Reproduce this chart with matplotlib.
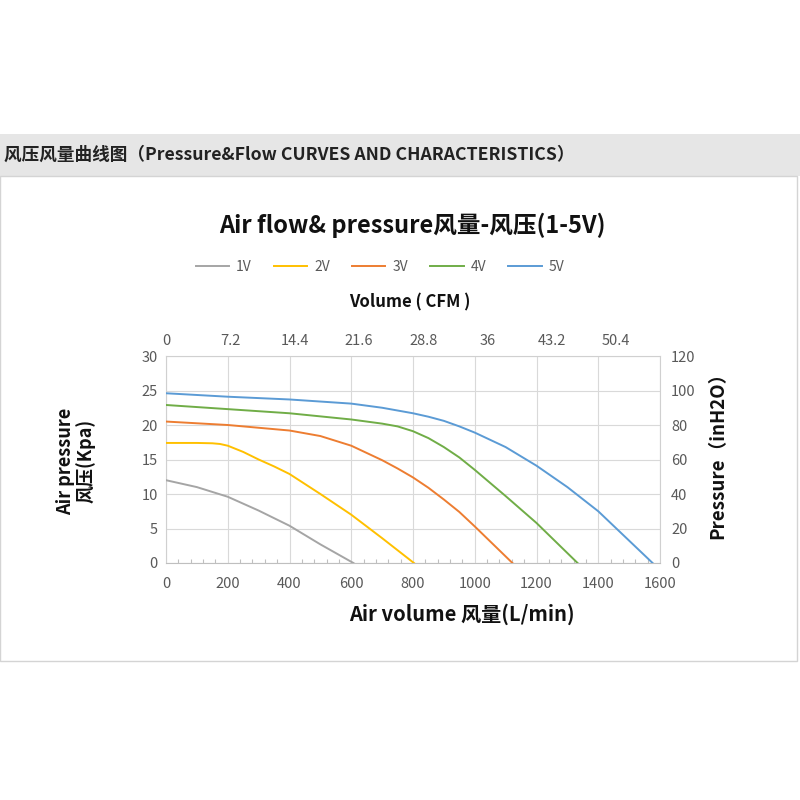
import matplotlib
matplotlib.use("Agg")
import matplotlib.pyplot as plt
from matplotlib.patches import Rectangle
from matplotlib.ticker import MultipleLocator

plt.rcParams["font.family"] = ["Noto Sans CJK SC", "DejaVu Sans"]

# ── Data ──────────────────────────────────────────────────────────────────────
flow_1v = [0, 100, 200, 300, 400, 500, 607]
pres_1v = [12.0, 11.0, 9.6, 7.6, 5.4, 2.7, 0.0]

flow_2v = [0, 100, 150, 175, 200, 250, 300, 350, 400, 500, 600, 700, 803]
pres_2v = [17.4, 17.4, 17.35, 17.25, 17.0, 16.1, 15.0, 14.0, 12.9, 10.0, 7.0, 3.6, 0.0]

flow_3v = [0, 200, 400, 500, 600, 700, 750, 800, 850, 900, 950, 1000, 1122]
pres_3v = [20.5, 20.0, 19.2, 18.4, 17.0, 14.9, 13.7, 12.4, 10.9, 9.2, 7.4, 5.3, 0.0]

flow_4v = [0, 200, 400, 600, 700, 750, 800, 850, 900, 950, 1000, 1100, 1200, 1333]
pres_4v = [22.9, 22.3, 21.7, 20.8, 20.2, 19.8, 19.1, 18.1, 16.8, 15.3, 13.5, 9.7, 5.8, 0.0]

flow_5v = [0, 200, 400, 600, 700, 800, 850, 900, 950, 1000, 1100, 1200, 1300, 1400, 1576]
pres_5v = [24.6, 24.1, 23.7, 23.1, 22.5, 21.7, 21.2, 20.6, 19.8, 18.9, 16.8, 14.1, 11.0, 7.5, 0.0]

series_labels = ["1V", "2V", "3V", "4V", "5V"]
series_colors = ["#A5A5A5", "#FFC000", "#ED7D31", "#70AD47", "#5B9BD5"]

cfm_ticks = [0, 7.2, 14.4, 21.6, 28.8, 36, 43.2, 50.4]
inh2o_ticks = [0, 20, 40, 60, 80, 100, 120]

TICK_COLOR = "#595959"
GRID_COLOR = "#D9D9D9"

# ── Figure / page background ──────────────────────────────────────────────────
fig = plt.figure(figsize=(8, 8), dpi=100)
fig.patch.set_facecolor("white")

# header band and framed box, in figure pixels
W = H = 800.0
fig.patches.append(Rectangle((0, 1 - 176 / H), 1, 42 / H, transform=fig.transFigure,
                             facecolor="#E6E6E6", edgecolor="none", zorder=-5))
fig.patches.append(Rectangle((0, 1 - 661 / H), 797 / W, 485 / H, transform=fig.transFigure,
                             facecolor="white", edgecolor="#D4D4D4", lw=1.0, zorder=-5))
fig.text(4 / W, 1 - 155 / H, "风压风量曲线图（Pressure&Flow CURVES AND CHARACTERISTICS）",
         fontsize=12.7, fontweight="bold", color="#222222", ha="left", va="center")

fig.text(412 / W, 1 - 225 / H, "Air flow& pressure风量-风压(1-5V)",
         fontsize=17, fontweight="bold", color="#111111", ha="center", va="center")

# ── Main axes ─────────────────────────────────────────────────────────────────
ax = fig.add_axes([166 / W, 1 - 563 / H, 494 / W, 207 / H])
ax.set_zorder(2)
series = [(flow_1v, pres_1v), (flow_2v, pres_2v), (flow_3v, pres_3v),
          (flow_4v, pres_4v), (flow_5v, pres_5v)]
handles = []
for (fx, py), lab, col in zip(series, series_labels, series_colors):
    h, = ax.plot(fx, py, color=col, lw=1.4, label=lab, zorder=3,
                 solid_joinstyle="round")
    handles.append(h)

ax.set_xlim(0, 1600)
ax.set_ylim(0, 30)
ax.xaxis.set_major_locator(MultipleLocator(200))
ax.xaxis.set_minor_locator(MultipleLocator(40))
ax.yaxis.set_major_locator(MultipleLocator(5))
ax.grid(True, which="major", color=GRID_COLOR, lw=0.8, zorder=0)
ax.tick_params(axis="both", which="major", labelsize=10.5, labelcolor=TICK_COLOR,
               length=0, pad=6)
ax.tick_params(axis="x", which="major", pad=10)
ax.tick_params(axis="x", which="minor", direction="in", length=3,
               color="#BFBFBF", width=0.8)
for s in ax.spines.values():
    s.set_color("#D0D0D0")
ax.spines["bottom"].set_color("#BFBFBF")

fig.text(462 / W, 1 - 614 / H, "Air volume 风量(L/min)", fontsize=14.5,
         fontweight="bold", color="#111111", ha="center", va="center")
fig.text(76 / W, 1 - 461 / H, "Air pressure\n风压(Kpa)", rotation=90,
         fontsize=13, fontweight="bold", color="#111111",
         ha="center", va="center", linespacing=1.05)

# top axis: CFM
ax_top = ax.twiny()
ax_top.set_xlim(0, 55.3)
ax_top.set_xticks(cfm_ticks)
ax_top.set_xticklabels([f"{t:g}" for t in cfm_ticks])
ax_top.tick_params(axis="x", labelsize=10.5, labelcolor=TICK_COLOR, length=0, pad=6)
for s in ax_top.spines.values():
    s.set_visible(False)
fig.text(410 / W, 1 - 302 / H, "Volume ( CFM )", fontsize=12, fontweight="bold",
         color="#111111", ha="center", va="center")

# right axis: inH2O
ax_r = ax.twinx()
ax_r.set_ylim(0, 120)
ax_r.set_yticks(inh2o_ticks)
ax_r.tick_params(axis="y", labelsize=10.5, labelcolor=TICK_COLOR, length=0, pad=8)
for s in ax_r.spines.values():
    s.set_visible(False)
fig.text(718 / W, 1 - 451 / H, "Pressure（inH2O）", rotation=90,
         fontsize=13.5, fontweight="bold", color="#111111", ha="center", va="center")

# legend
fig.legend(handles=handles, labels=series_labels, loc="center",
           bbox_to_anchor=(380 / W, 1 - 267 / H), ncol=5, frameon=False,
           fontsize=10, labelcolor=TICK_COLOR, handlelength=2.4,
           columnspacing=1.6, handletextpad=0.5)

fig.savefig("out.png", dpi=100, facecolor="white")
